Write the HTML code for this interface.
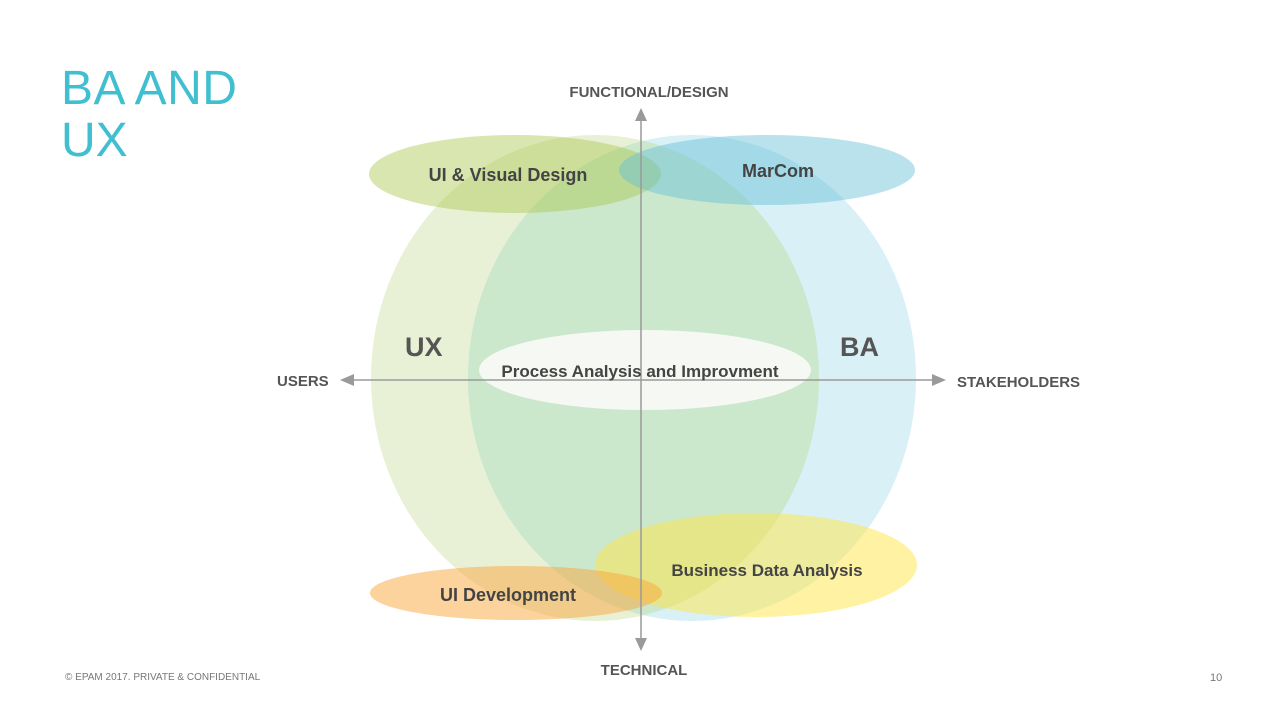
<!DOCTYPE html>
<html><head><meta charset="utf-8"><style>
body{margin:0;width:1280px;height:720px;background:#fff;overflow:hidden;font-family:"Liberation Sans",sans-serif;}
</style></head><body>
<svg width="1280" height="720" viewBox="0 0 1280 720" xmlns="http://www.w3.org/2000/svg">
<defs><clipPath id="ux"><ellipse cx="595" cy="378" rx="224" ry="243"/></clipPath></defs>
<text x="61" y="104" font-size="48" fill="#3fbfd0" font-family="Liberation Sans" letter-spacing="0.5">BA AND</text>
<text x="61" y="156" font-size="48" fill="#3fbfd0" font-family="Liberation Sans">UX</text>
<ellipse cx="595" cy="378" rx="224" ry="243" fill="#e8f1d6"/>
<ellipse cx="692" cy="378" rx="224" ry="243" fill="#d9f0f6"/>
<ellipse cx="692" cy="378" rx="224" ry="243" fill="#cbe7cc" clip-path="url(#ux)"/>
<ellipse cx="515" cy="174" rx="146" ry="39" fill="rgba(170,200,80,0.45)"/>
<ellipse cx="767" cy="170" rx="148" ry="35" fill="rgba(100,190,215,0.45)"/>
<ellipse cx="645" cy="370" rx="166" ry="40" fill="#f5f8f3"/>
<ellipse cx="756" cy="565" rx="161" ry="52" fill="rgba(255,230,70,0.5)"/>
<ellipse cx="516" cy="593" rx="146" ry="27" fill="rgba(250,165,60,0.5)"/>
<g stroke="#9a9a9a" stroke-width="1.5"><line x1="641" y1="118" x2="641" y2="640"/><line x1="352" y1="380" x2="934" y2="380"/></g>
<g fill="#9a9a9a"><polygon points="641,108 635,121 647,121"/><polygon points="641,651 635,638 647,638"/><polygon points="340,380 354,374 354,386"/><polygon points="946,380 932,374 932,386"/></g>
<g font-family="Liberation Sans" font-weight="bold" fill="#555">
<text x="649" y="97" font-size="15" text-anchor="middle">FUNCTIONAL/DESIGN</text>
<text x="644" y="675" font-size="15" text-anchor="middle">TECHNICAL</text>
<text x="277" y="386" font-size="15">USERS</text>
<text x="957" y="387" font-size="15">STAKEHOLDERS</text>
<text x="405" y="356" font-size="27">UX</text>
<text x="840" y="356" font-size="27">BA</text>
<text x="508" y="181" font-size="18" text-anchor="middle" fill="#444">UI &amp; Visual Design</text>
<text x="778" y="177" font-size="18" text-anchor="middle" fill="#444">MarCom</text>
<text x="640" y="377" font-size="17" text-anchor="middle" fill="#444">Process Analysis and Improvment</text>
<text x="767" y="576" font-size="17" text-anchor="middle" fill="#444">Business Data Analysis</text>
<text x="508" y="601" font-size="18" text-anchor="middle" fill="#444">UI Development</text>
</g>
<text x="65" y="680" font-size="10" fill="#777">© EPAM 2017. PRIVATE &amp; CONFIDENTIAL</text>
<text x="1210" y="681" font-size="11" fill="#777">10</text>
</svg>
</body></html>
